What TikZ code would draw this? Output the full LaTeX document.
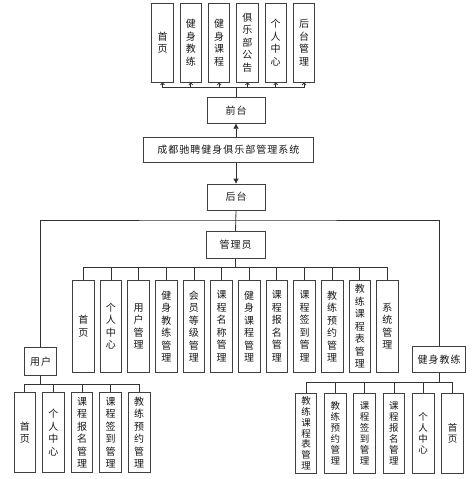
\documentclass[tikz,border=0pt]{standalone}
\usepackage{fontspec}
\newfontfamily\cjk[LetterSpace=10]{Noto Sans CJK SC}
\newfontfamily\cjkv{Noto Sans CJK SC}
\usetikzlibrary{arrows.meta, positioning}

\tikzset{
  box/.style={draw=black!75, line width=0.8pt, fill=white, inner sep=0pt,
    font=\cjk\fontsize{10}{12.5}\selectfont, text=black!90, align=center},
  vbox/.style={box, minimum width=21.5pt, font=\cjkv\fontsize{10}{12.5}\selectfont},
  link/.style={draw=black!80, line width=0.8pt},
}

\begin{document}
\begin{tikzpicture}[x=1pt, y=-1pt]
    \useasboundingbox (0,0) rectangle (474,479);

    % 前台 / 系统 / 后台
    \node[box, minimum width=58pt, minimum height=26pt] (qt) at (236,110.3) {前台};
    \node[box, minimum width=170pt, minimum height=25pt] (sys) at (228.3,149.8) {成都驰聘健身俱乐部管理系统};
    \node[box, minimum width=58pt, minimum height=26pt] (ht) at (236,197) {后台};
    \draw[link, -{Triangle[length=5pt, width=5pt]}] (sys.north -| qt.south) -- (qt.south);
    \draw[link, -{Triangle[length=5pt, width=5pt]}] (sys.south -| ht.north) -- (ht.north);

    % 前台功能
    \foreach \t [count=\i] in {{首\\页}, {健\\身\\教\\练}, {健\\身\\课\\程}, {俱\\乐\\部\\公\\告}, {个\\人\\中\\心}, {后\\台\\管\\理}}
        \node[vbox, minimum height=79pt] (q\i) at ({162.5+28.3*(\i-1)},42.5) {\t};
    \coordinate (qbus) at (236,87.3);
    \draw[link] (qt.north) -- (qbus);
    \foreach \i in {1,...,6}
        \draw[link, -{Straight Barb[length=2pt, width=4pt]}] (qbus) -| (q\i.south);

    % 三种角色
    \node[box, minimum width=59pt, minimum height=26.6pt] (gly) at (235.5,245) {管理员};
    \node[box, minimum width=32.4pt, minimum height=27.3pt] (yh) at (40.5,361.3) {用户};
    \node[box, minimum width=52.6pt, minimum height=26.7pt] (js) at (439,359.3) {健身教练};
    \coordinate (hbus) at (236,220);
    \draw[link] (ht.south) -- (gly.north);
    \draw[link] (yh.north) |- (hbus) -| (js.north);

    % 管理员功能
    \foreach \t [count=\i] in {{首\\页}, {个\\人\\中\\心}, {用\\户\\管\\理}, {健\\身\\教\\练\\管\\理}, {会\\员\\等\\级\\管\\理}, {课\\程\\名\\称\\管\\理}, {健\\身\\课\\程\\管\\理}, {课\\程\\报\\名\\管\\理}, {课\\程\\签\\到\\管\\理}, {教\\练\\预\\约\\管\\理}, {教\\练\\课\\程\\表\\管\\理}, {系\\统\\管\\理}}
        \node[vbox, minimum height=92.7pt] (g\i) at ({83.3+27.65*(\i-1)},326.3) {\t};
    \coordinate (gbus) at (235.5,267.7);
    \draw[link] (gly.south) -- (gbus);
    \foreach \i in {1,...,12}
        \draw[link] (gbus) -| (g\i.north);

    % 用户功能
    \foreach \t [count=\i] in {{首\\页}, {个\\人\\中\\心}, {课\\程\\报\\名\\管\\理}, {课\\程\\签\\到\\管\\理}, {教\\练\\预\\约\\管\\理}}
        \node[vbox, minimum height=80pt] (y\i) at ({24.8+28.6*(\i-1)},432.7) {\t};
    \coordinate (ybus) at (40.5,384.3);
    \draw[link] (yh.south) -- (ybus);
    \foreach \i in {1,...,5}
        \draw[link] (ybus) -| (y\i.north);

    % 健身教练功能
    \foreach \t [count=\i] in {{教\\练\\课\\程\\表\\管\\理}, {教\\练\\预\\约\\管\\理}, {课\\程\\签\\到\\管\\理}, {课\\程\\报\\名\\管\\理}, {个\\人\\中\\心}, {首\\页}}
        \node[vbox, minimum height=80pt, font=\cjkv\fontsize{9.5}{10.9}\selectfont] (j\i) at ({306+29.3*(\i-1)},433.3) {\t};
    \coordinate (jbus) at (439,382.3);
    \draw[link] (js.south) -- (jbus);
    \foreach \i in {1,...,6}
        \draw[link] (jbus) -| (j\i.north);
\end{tikzpicture}
\end{document}
